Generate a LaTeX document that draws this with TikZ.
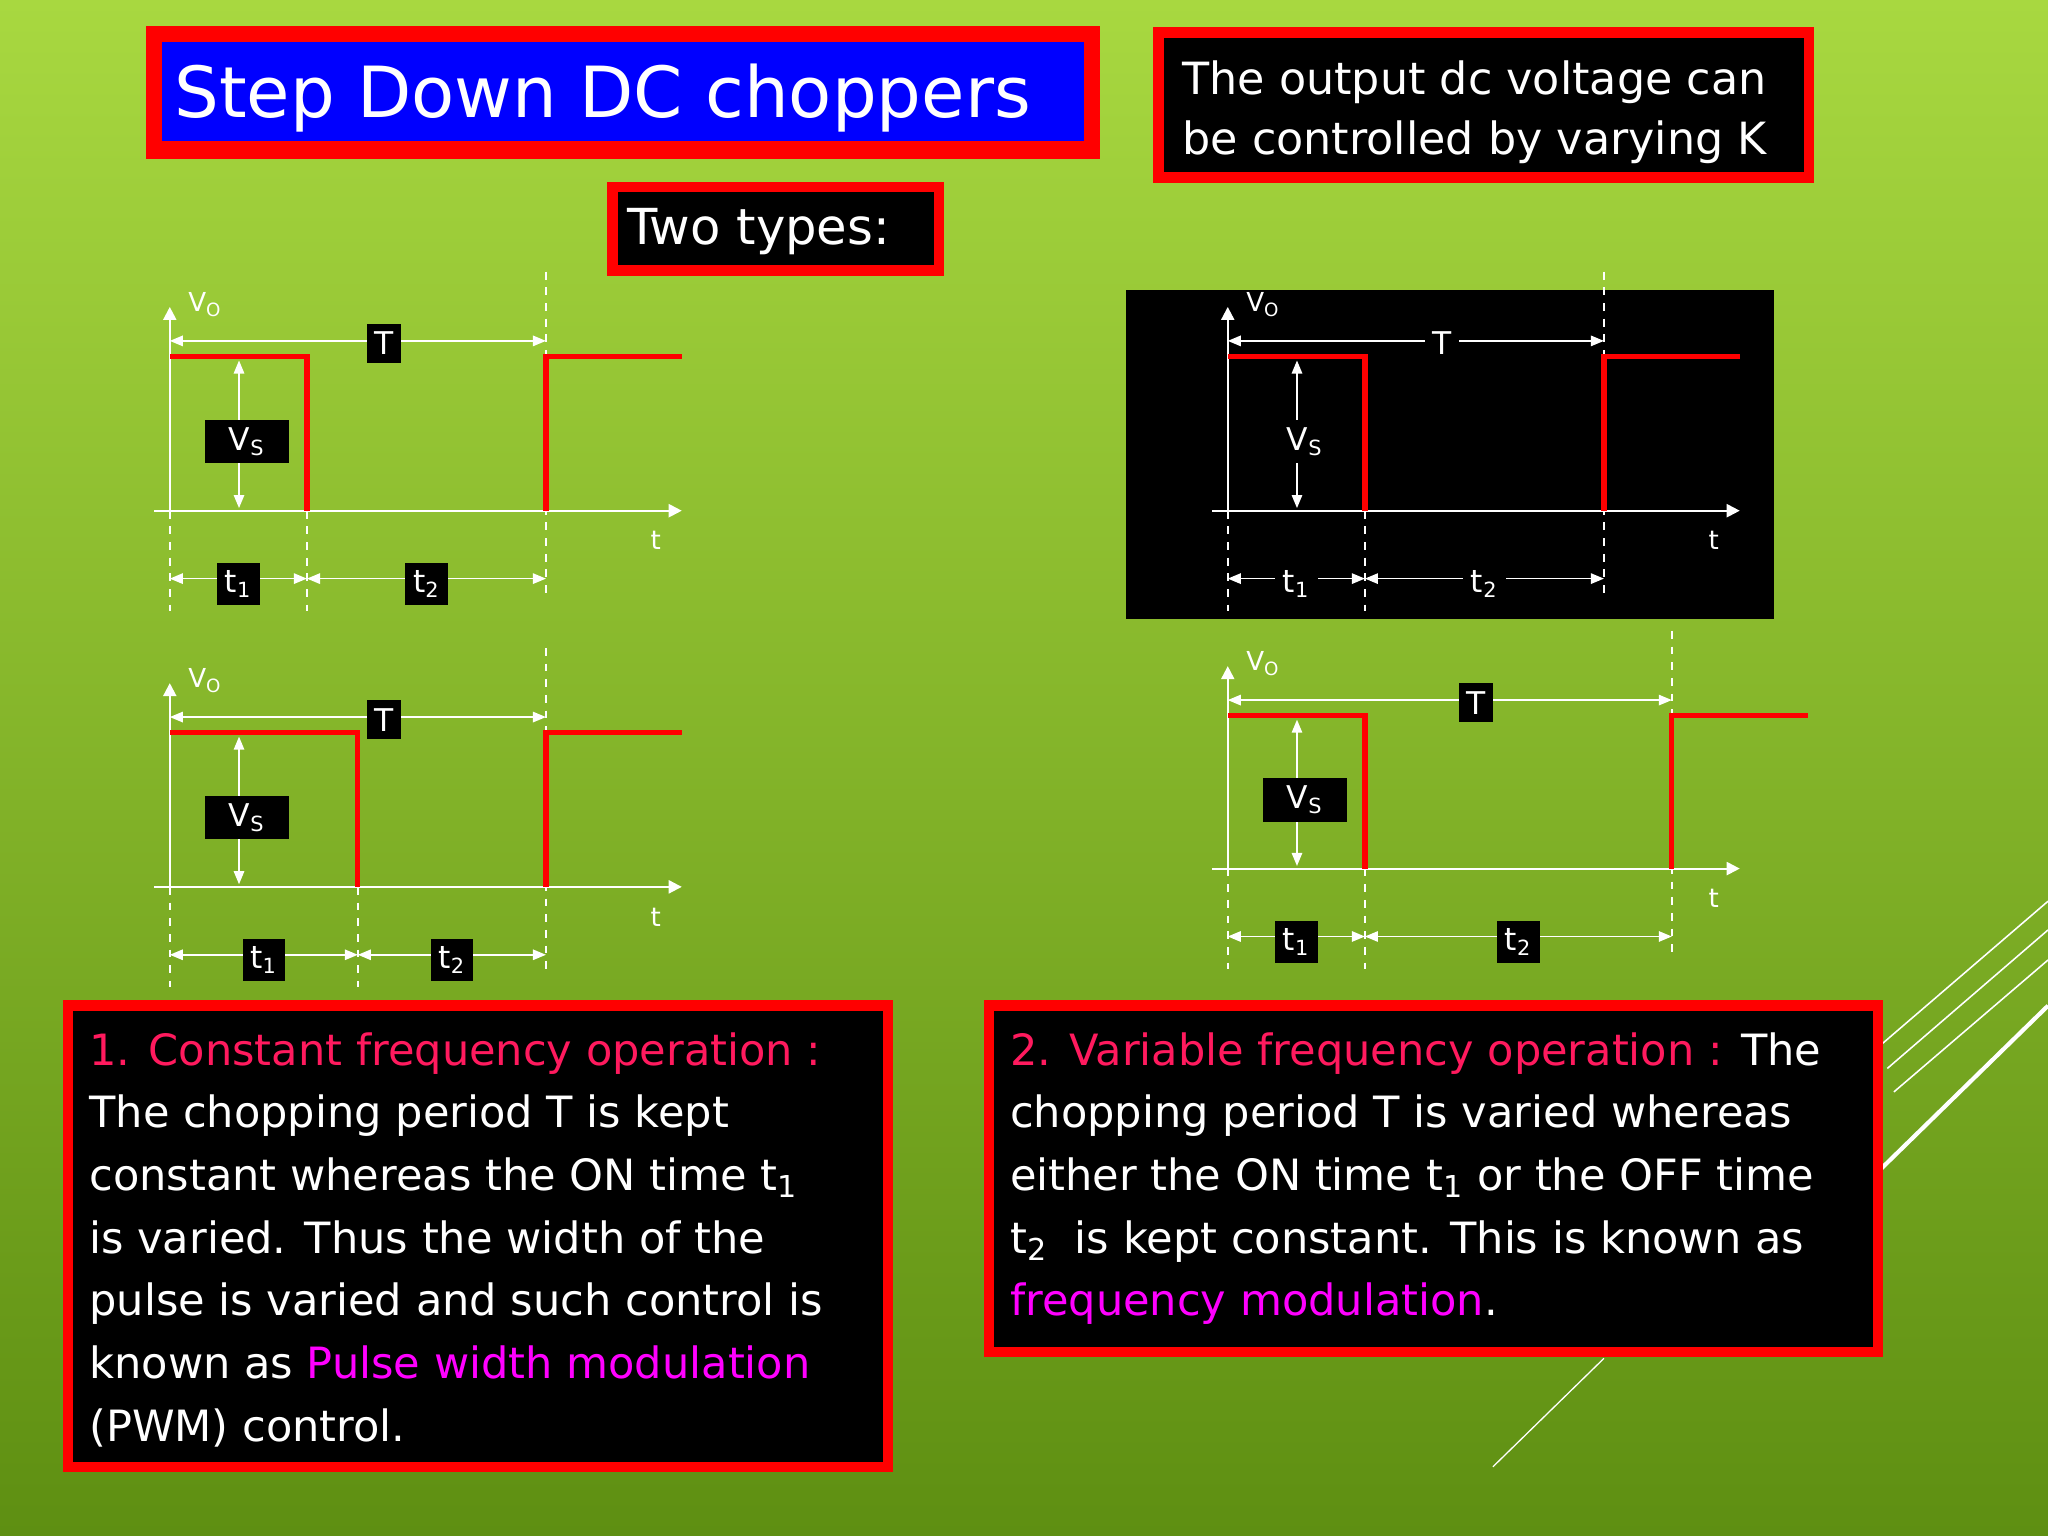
\documentclass[tikz,border=0pt]{standalone}
\usepackage{fontspec}
\setmainfont{DejaVu Sans}
\usetikzlibrary{arrows.meta}
\definecolor{bgtop}{HTML}{A8D840}
\definecolor{bgbot}{HTML}{5E8F12}
\definecolor{hdr}{HTML}{FF1A5E}
\definecolor{mag}{HTML}{FF00FF}
\tikzset{
 axis/.style={white,line width=0.8pt,-{Triangle[length=5pt,width=5pt]}},
 dim/.style={white,line width=0.6pt,{Triangle[length=5pt,width=4pt]}-{Triangle[length=5pt,width=4pt]}},
 dsh/.style={white,dashed,line width=0.6pt},
 wav/.style={red,line width=2pt},
 lblbox/.style={fill=black,text=white,font=\fontsize{12}{12}\selectfont,inner sep=3pt,minimum height=13pt},
 lblfree/.style={fill=black,text=white,font=\fontsize{12}{12}\selectfont,inner sep=3pt},
 small/.style={text=white,font=\fontsize{10}{10}\selectfont},
 redbox/.style={draw=red,line width=4pt,fill=black},
 para/.style={text=white,anchor=north west,align=left,inner sep=0pt,font=\fontsize{16.5}{24}\selectfont}
}
% #1 ox, #2 base, #3 high, #4 fall, #5 rise, #6 end, #7 label style, #8 Vs box width, #9 axis end
\newcommand\chopwave[9]{
 \draw[axis] (#1,#2+4) -- (#1,#3-38);
 \draw[axis] (#1-12,#2) -- (#9,#2);
 \draw[dsh] (#5,#3-65) -- (#5,#2+64);
 \draw[dsh] (#4,#2) -- (#4,#2+77);
 \draw[dsh] (#1,#2) -- (#1,#2+77);
 \draw[wav] (#1,#3) -- (#4,#3) -- (#4,#2);
 \draw[wav] (#5,#2) -- (#5,#3) -- (#6,#3);
 \draw[dim] (#1,#3-12) -- (#5,#3-12);
 \node[#7] at ({(#1+#5)/2+20},#3-10) {T};
 \draw[dim] (#1+53,#3+3) -- (#1+53,#2-2);
 \node[#7,minimum width=#8] at (#1+59,{(#2+#3)/2+6}) {V\textsubscript{S}};
 \draw[dim] (#1,#2+52) -- (#4,#2+52);
 \draw[dim] (#4,#2+52) -- (#5,#2+52);
 \node[#7] at ({(#1+#4)/2},#2+56) {t\textsubscript{1}};
 \node[#7] at ({(#4+#5)/2},#2+56) {t\textsubscript{2}};
 \node[small] at (#1+27,#3-40) {V\textsubscript{O}};
 \node[small] at (#9-20,#2+23) {t};
}
\begin{document}
\begin{tikzpicture}[x=0.5pt,y=-0.5pt]
\shade[top color=bgtop,bottom color=bgbot] (0,0) rectangle (1568,1176);
\useasboundingbox (0,0) rectangle (1568,1176);
% decorative lines
\draw[white,line width=0.6pt] (1440,800) -- (1568,690);
\draw[white,line width=0.6pt] (1445,818) -- (1568,712);
\draw[white,line width=0.6pt] (1450,836) -- (1568,735);
\draw[white,line width=1.6pt] (1440,895) -- (1568,770);
\draw[white,line width=0.5pt] (1143,1123) -- (1228,1040);
% title
\draw[red,fill=red] (112,20) rectangle (842,121);
\fill[blue] (124,32) rectangle (830,108);
\node[text=white,anchor=west,font=\fontsize{27}{27}\selectfont,inner sep=0pt] (title) at (133,75) {Step Down DC choppers};
\draw[redbox] (887,25) rectangle (1385,136);
\node[para,font=\fontsize{17}{23}\selectfont] (out) at (905,46) {The output dc voltage can\\be controlled by varying K};
\draw[redbox] (469,143) rectangle (719,207);
\node[text=white,font=\fontsize{19}{19}\selectfont] (two) at (581,177) {Two types:};
% waveforms
\chopwave{130}{391}{273}{235}{418}{522}{lblbox}{32pt}{522}
\chopwave{130}{679}{561}{274}{418}{522}{lblbox}{32pt}{522}
\fill[black] (862,222) rectangle (1358,474);
\chopwave{940}{391}{273}{1045}{1228}{1332}{lblfree}{0pt}{1332}
\chopwave{940}{665}{548}{1045}{1280}{1384}{lblbox}{32pt}{1332}
% text boxes
\draw[redbox] (52,770) rectangle (680,1123);
\node[para] (p1) at (68,790) {\textcolor{hdr}{1. Constant frequency operation :}\\The chopping period T is kept\\constant whereas the ON time t\textsubscript{1}\\is varied. Thus the width of the\\pulse is varied and such control is\\known as \textcolor{mag}{Pulse width modulation}\\(PWM) control.};
\draw[redbox] (757,770) rectangle (1438,1035);
\node[para] (p2) at (773,790) {\textcolor{hdr}{2. Variable frequency operation :} The\\chopping period T is varied whereas\\either the ON time t\textsubscript{1} or the OFF time\\t\textsubscript{2}\ \ is kept constant. This is known as\\\textcolor{mag}{frequency modulation}.};
\end{tikzpicture}
\end{document}
